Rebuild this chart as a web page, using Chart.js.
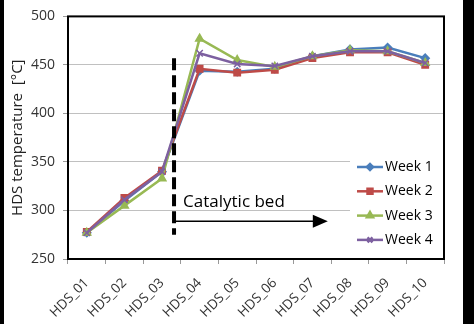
<!DOCTYPE html>
<html>
<head>
<meta charset="utf-8">
<script src="https://cdn.jsdelivr.net/npm/chart.js@4.4.0/dist/chart.umd.min.js"></script>
<style>
  html, body { margin: 0; padding: 0; background: #000; }
  #wrap { position: absolute; left: 4px; top: 0; width: 459px; height: 324px; background: #fff; }
</style>
</head>
<body>
<div id="wrap"><canvas id="chart" width="459" height="324"></canvas></div>
<script>
// datos
const categorias = ['HDS_01', 'HDS_02', 'HDS_03', 'HDS_04', 'HDS_05', 'HDS_06', 'HDS_07', 'HDS_08', 'HDS_09', 'HDS_10'];
const semana1 = [277, 310, 340, 444, 443, 446, 459, 466, 468, 457];
const semana2 = [278, 313, 341, 446, 442, 445, 457, 463, 463, 450];
const semana3 = [277, 305, 333, 477, 455, 448, 459, 465, 464, 452];
const semana4 = [277, 311, 340, 462, 451, 449, 459, 464, 464, 452];
const ticksY = [250, 300, 350, 400, 450, 500];

const fuente = '"Open Sans", "Liberation Sans", sans-serif';

function serie(label, data, color, estilo, radio, orden) {
    return {
        label: label, data: data, borderColor: color, backgroundColor: color,
        borderWidth: 2.5, pointStyle: estilo, pointRadius: radio, pointBorderWidth: 1.5,
        pointBorderColor: color, tension: 0, order: orden
    };
}

// anotaciones: linea discontinua, flecha, texto, marco y leyenda
const extras = {
    id: 'extras',
    afterDatasetsDraw(chart) {
        const ctx = chart.ctx;
        const x = chart.scales.x, y = chart.scales.y;
        const area = chart.chartArea;
        ctx.save();

        // linea discontinua
        ctx.strokeStyle = '#000';
        ctx.lineWidth = 4;
        ctx.setLineDash([12, 5]);
        ctx.beginPath();
        ctx.moveTo(x.getPixelForValue(2.32), y.getPixelForValue(457));
        ctx.lineTo(x.getPixelForValue(2.32), y.getPixelForValue(275));
        ctx.stroke();
        ctx.setLineDash([]);

        // flecha
        const ay = y.getPixelForValue(289);
        const x0 = x.getPixelForValue(2.35), x1 = x.getPixelForValue(6.41);
        ctx.lineWidth = 1.5;
        ctx.beginPath();
        ctx.moveTo(x0, ay);
        ctx.lineTo(x1 - 14, ay);
        ctx.stroke();
        ctx.fillStyle = '#000';
        ctx.beginPath();
        ctx.moveTo(x1, ay);
        ctx.lineTo(x1 - 15, ay - 6.5);
        ctx.lineTo(x1 - 15, ay + 6.5);
        ctx.closePath();
        ctx.fill();

        // texto
        ctx.font = '17px ' + fuente;
        ctx.textBaseline = 'alphabetic';
        ctx.textAlign = 'left';
        ctx.fillText('Catalytic bed', x.getPixelForValue(2.56), y.getPixelForValue(303.5));

        // leyenda
        const lx = area.right - 94, ly = area.bottom - 101;
        ctx.fillStyle = '#fff';
        ctx.fillRect(lx, ly, area.right - lx, area.bottom - ly);
        chart.data.datasets.forEach((ds, i) => {
            const fy = area.bottom - 92 + i * 24.3;
            const sx = area.right - 87;
            ctx.strokeStyle = ds.borderColor;
            ctx.lineWidth = 2.5;
            ctx.beginPath();
            ctx.moveTo(sx, fy);
            ctx.lineTo(sx + 26, fy);
            ctx.stroke();
            ctx.fillStyle = ds.borderColor;
            Chart.helpers.drawPoint(ctx, { pointStyle: ds.pointStyle, radius: ds.pointRadius - 1, borderWidth: 1.2, rotation: 0 }, sx + 13, fy);
            ctx.fillStyle = '#000';
            ctx.font = '14px ' + fuente;
            ctx.textBaseline = 'middle';
            ctx.fillText(ds.label, sx + 28, fy);
        });

        // marco
        ctx.strokeStyle = '#000';
        ctx.lineWidth = 2;
        ctx.strokeRect(area.left, area.top, area.right - area.left, area.bottom - area.top);
        ctx.restore();
    }
};

new Chart(document.getElementById('chart').getContext('2d'), {
    type: 'line',
    data: {
        labels: categorias,
        datasets: [
            serie('Week 1', semana1, '#4a7ebb', 'rectRot', 4, 4),
            serie('Week 2', semana2, '#be4b48', 'rect', 4.5, 3),
            serie('Week 3', semana3, '#98b954', 'triangle', 4.5, 2),
            serie('Week 4', semana4, '#7d60a0', 'crossRot', 4.5, 1)
        ]
    },
    options: {
        responsive: false,
        animation: false,
        layout: { padding: { top: 16, right: 19, left: 0, bottom: 0 } },
        plugins: { legend: { display: false }, tooltip: { enabled: false } },
        scales: {
            x: {
                offset: true,
                grid: { offset: true, drawOnChartArea: false, tickLength: 5, color: '#999' },
                border: { display: false },
                ticks: { minRotation: 45, maxRotation: 45, color: '#333', font: { family: fuente, size: 13.5 }, padding: 11 },
                afterFit(s) { s.height = 65; }
            },
            y: {
                min: 250, max: 500,
                afterBuildTicks(s) { s.ticks = ticksY.map(v => ({ value: v })); },
                grid: { color: '#c0c0c0', tickColor: '#999', tickLength: 5 },
                border: { display: false },
                ticks: { color: '#333', font: { family: fuente, size: 14 }, padding: 8 },
                title: { display: true, text: 'HDS temperature  [°C]', color: '#222', font: { family: fuente, size: 15 }, padding: { top: 5, bottom: 0 } },
                afterFit(s) { s.width = 64; }
            }
        }
    },
    plugins: [extras]
});
</script>
</body>
</html>
